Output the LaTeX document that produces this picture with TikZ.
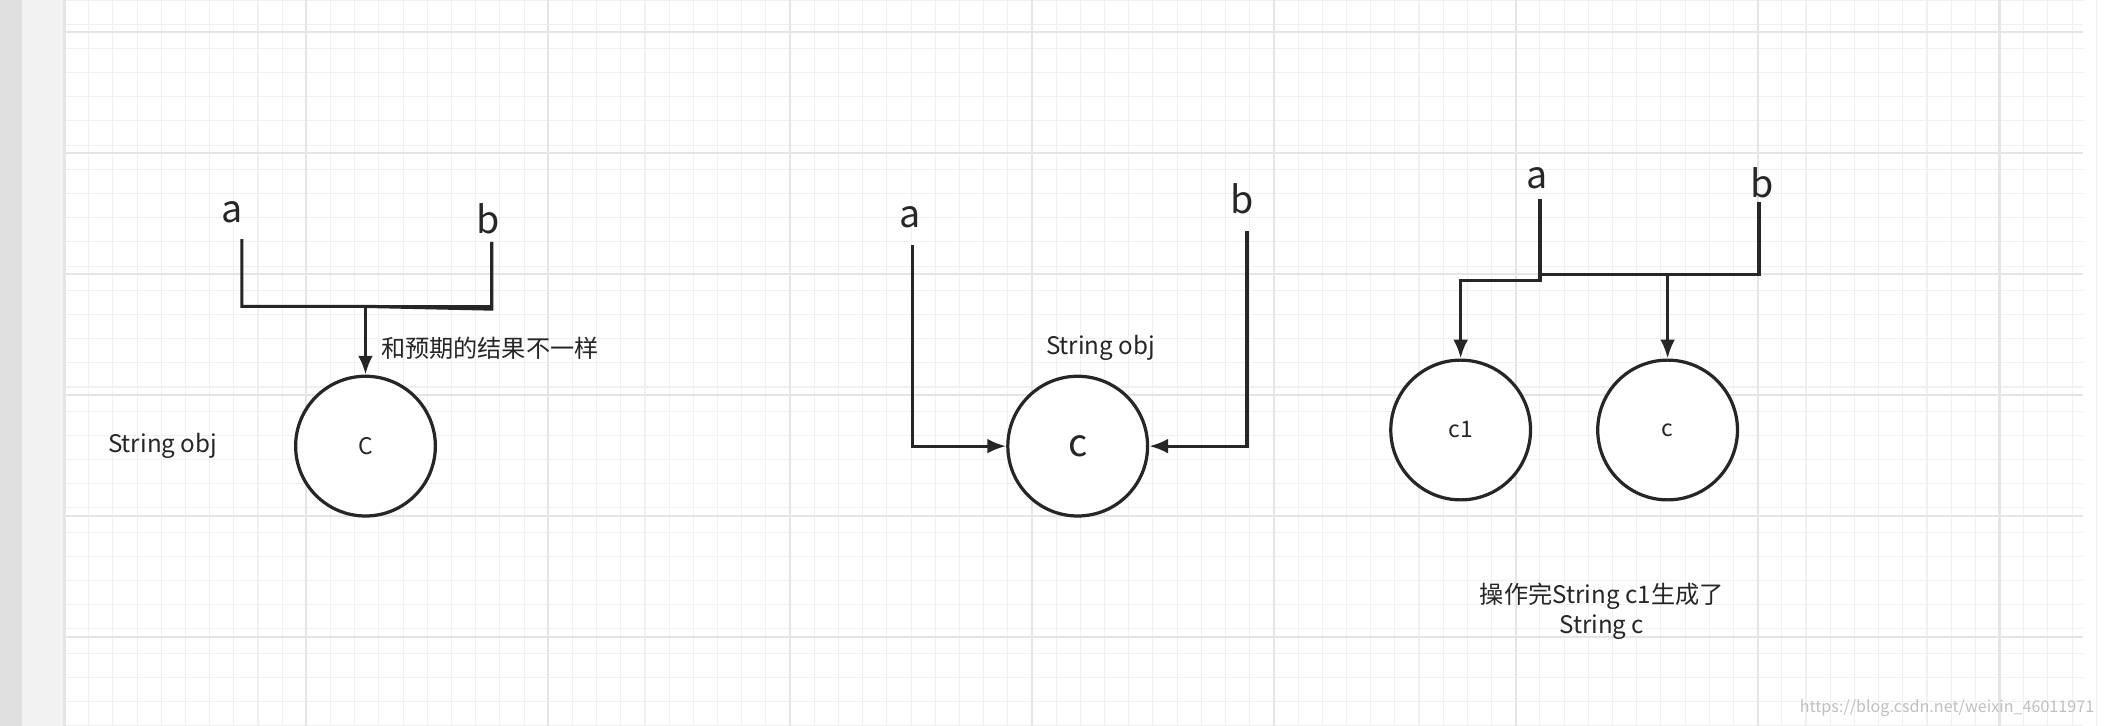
\documentclass[tikz,border=0pt]{standalone}
\usepackage{fontspec}
\setmainfont{Noto Sans CJK SC}
\usetikzlibrary{arrows.meta}
\begin{document}
\begin{tikzpicture}[x=1pt,y=-1pt,
  ln/.style={line width=2.4pt,draw=black!85},
  arr/.style={ln,-{Latex[length=14pt,width=11pt]}},
  obj/.style={circle,draw=black!85,line width=2.4pt,minimum size=104pt,inner sep=0pt,fill=white},
  big/.style={font=\fontsize{28}{30}\selectfont,text=black!85},
  txt/.style={font=\fontsize{18}{22}\selectfont,text=black!85,align=center}]
\useasboundingbox (0,0) rectangle (1568,540);
\fill[white] (0,0) rectangle (1568,540);
\fill[black!12] (0,0) rectangle (16,540);
\fill[black!5] (16,0) rectangle (47,540);
\foreach \x in {48,66,...,1560} \draw[black!6,line width=0.8pt] (\x,0) -- (\x,540);
\foreach \y in {0,18,...,540} \draw[black!6,line width=0.8pt] (48,\y) -- (1550,\y);
\foreach \x in {48,228,...,1560} \draw[black!10,line width=1.6pt] (\x,0) -- (\x,540);
\foreach \y in {24,114,...,540} \draw[black!10,line width=1.6pt] (48,\y) -- (1550,\y);
% left
\node[big] (a1) at (173,158) {a};
\node[big] (b1) at (363,163) {b};
\node[obj] (C1) at (272,332) {};
\node[font=\fontsize{17}{20}\selectfont,text=black!85] at (C1) {C};
\coordinate (j1) at (272,228);
\draw[ln] (180,178) |- (j1) -- (366,230) -- (366,180);
\draw[ln] (180,228) -- (366,228) -- (366,180);
\draw[arr] (j1) -- (C1.north);
\node[txt] (s1) at (121,332) {String obj};
\node[txt,anchor=west] (t1) at (280,259) {和预期的结果不一样};
% middle
\node[big] (a2) at (677,162) {a};
\node[big] (b2) at (924,148) {b};
\node[obj] (C2) at (802,332) {};
\node[font=\fontsize{28}{30}\selectfont,text=black!85] at (C2) {c};
\draw[arr] (679,182) |- (C2.west);
\draw[arr] (928,172) |- (C2.east);
\node[txt] (s2) at (819,259) {String obj};
% right
\node[big] (a3) at (1144,133) {a};
\node[big] (b3) at (1311,136) {b};
\node[obj] (c1) at (1087,320) {};
\node[obj] (c3) at (1241,320) {};
\node[txt,font=\fontsize{17}{20}\selectfont] at (c1) {c1};
\node[txt,font=\fontsize{17}{20}\selectfont] at (c3) {c};
\draw[arr] (1146,148) -- (1146,209) -| (c1.north);
\draw[ln] (1146,204) -- (1309,204) -- (1309,150);
\draw[arr] (1241,204) -- (c3.north);
\node[txt] (t3) at (1192,455) {操作完String c1生成了\\String c};
\node[font=\fontsize{12}{14}\selectfont,text=black!25,anchor=east] at (1562,527) {https://blog.csdn.net/weixin\_46011971};
\end{tikzpicture}
\end{document}
